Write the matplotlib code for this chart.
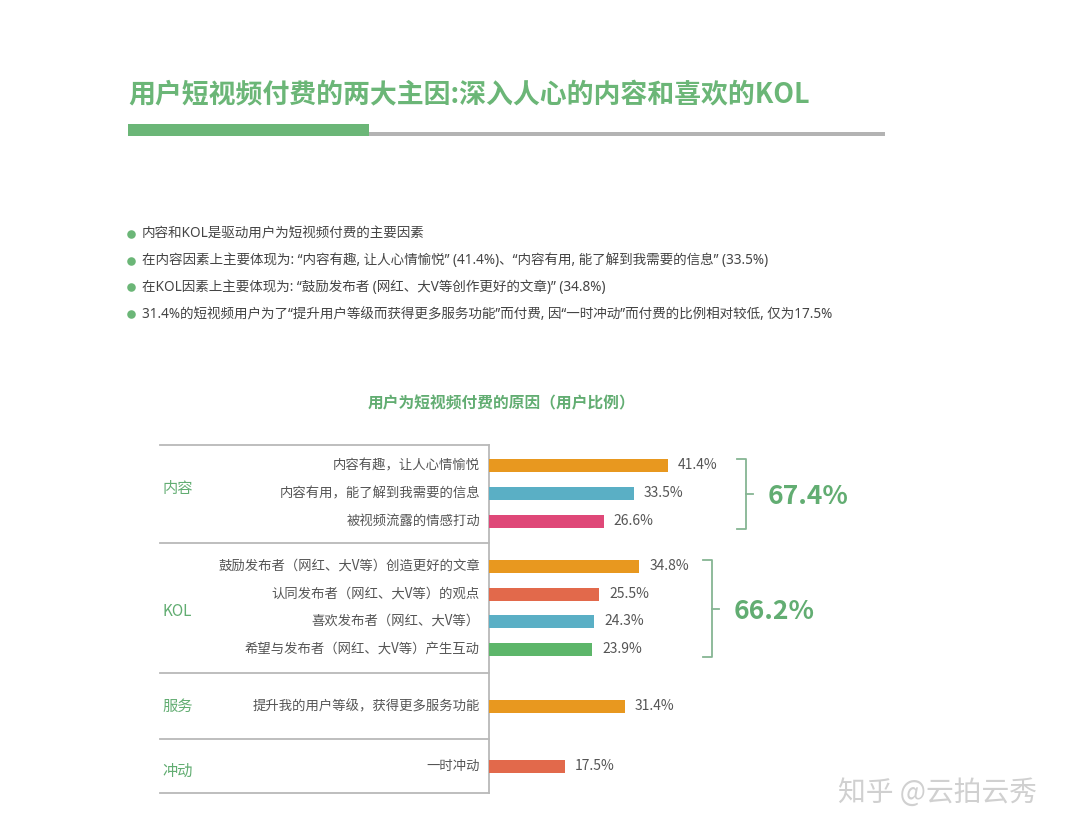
import matplotlib
matplotlib.use("Agg")
import matplotlib.pyplot as plt

plt.rcParams['font.family'] = ['Noto Sans CJK SC', 'DejaVu Sans']

# ---- data ----
title = "用户短视频付费的两大主因:深入人心的内容和喜欢的KOL"
bullets = [
    "内容和KOL是驱动用户为短视频付费的主要因素",
    "在内容因素上主要体现为: “内容有趣, 让人心情愉悦” (41.4%)、“内容有用, 能了解到我需要的信息” (33.5%)",
    "在KOL因素上主要体现为: “鼓励发布者 (网红、大V等创作更好的文章)” (34.8%)",
    "31.4%的短视频用户为了“提升用户等级而获得更多服务功能”而付费, 因“一时冲动”而付费的比例相对较低, 仅为17.5%",
]
chart_title = "用户为短视频付费的原因（用户比例）"
groups = ["内容", "KOL", "服务", "冲动"]
group_sizes = [3, 4, 1, 1]
labels = [
    "内容有趣，让人心情愉悦",
    "内容有用，能了解到我需要的信息",
    "被视频流露的情感打动",
    "鼓励发布者（网红、大V等）创造更好的文章",
    "认同发布者（网红、大V等）的观点",
    "喜欢发布者（网红、大V等）",
    "希望与发布者（网红、大V等）产生互动",
    "提升我的用户等级，获得更多服务功能",
    "一时冲动",
]
values = [41.4, 33.5, 26.6, 34.8, 25.5, 24.3, 23.9, 31.4, 17.5]
group_totals = [67.4, 66.2]
watermark = "知乎 @云拍云秀"

# ---- style / layout ----
W, H = 1080, 835
GREEN = "#6bb677"
GREEN_TXT = "#62ad72"
GRAY_TXT = "#555555"
LINE = "#b9b9b9"
colors = ["#e8981f", "#5aafc5", "#df4878", "#e8981f", "#e2694b",
          "#5aafc5", "#5db66a", "#e8981f", "#e2694b"]
row_y = [465, 493, 521, 566, 594, 621, 649, 706, 766]
group_label_y = [489, 612, 706, 771]
separators = [445, 543, 673, 739, 793]
box_left, bar_left = 160, 489
px_per_pct = 4.32

fig = plt.figure(figsize=(W / 100, H / 100), dpi=100)
ax = fig.add_axes([0, 0, 1, 1])
ax.set_xlim(0, W)
ax.set_ylim(H, 0)
ax.axis("off")

# title + underline
ax.text(128, 94, title, color=GREEN, fontsize=19.4, fontweight="bold",
        ha="left", va="center")
ax.add_patch(plt.Rectangle((369, 132), 516, 4, color="#b3b3b3", lw=0))
ax.add_patch(plt.Rectangle((128, 124), 241, 12, color=GREEN, lw=0))

# bullet list (latin + punctuation from Noto Sans so quotes stay narrow)
for i, b in enumerate(bullets):
    y = 234 + i * 26.7
    ax.scatter([131], [y], s=38, color=GREEN, lw=0)
    ax.text(142, y, b, fontsize=9.75, color="#444444", ha="left", va="center",
            family=["Noto Sans", "Noto Sans CJK SC"])

ax.text(502, 403, chart_title, color=GREEN_TXT, fontsize=11.3,
        fontweight="bold", ha="center", va="center")

# left box
for y in separators:
    ax.plot([box_left, bar_left], [y, y], color=LINE, lw=1.3)
ax.plot([bar_left, bar_left], [separators[0], separators[-1]], color=LINE, lw=1.3)
for g, y in zip(groups, group_label_y):
    ax.text(162, y, g, color=GREEN_TXT, fontsize=11, ha="left", va="center")

# bars
bx = fig.add_axes([bar_left / W, 0, (W - bar_left) / W, 1])
bx.set_xlim(0, (W - bar_left) / px_per_pct)
bx.set_ylim(H, 0)
bx.axis("off")
bx.patch.set_alpha(0)
bx.barh(row_y, values, height=13, color=colors, left=0)
for lab, v, y in zip(labels, values, row_y):
    bx.annotate(lab, xy=(0, y), xytext=(-9, 0), textcoords="offset pixels",
                ha="right", va="center", fontsize=9.6, color=GRAY_TXT)
    bx.annotate(f"{v}%", xy=(v, y), xytext=(10, 0), textcoords="offset pixels",
                ha="left", va="center", fontsize=10, color=GRAY_TXT)

# brackets with totals
BR = "#86b593"
starts = [0, 3]
bracket_x = [746, 712]
for k, tot in enumerate(group_totals):
    s = starts[k]
    n = group_sizes[k]
    top = row_y[s] - 6
    bot = row_y[s + n - 1] + 8
    mid = (top + bot) / 2
    xr = bracket_x[k]
    ax.plot([xr - 9, xr, xr, xr - 9], [top, top, bot, bot], color=BR, lw=1.3)
    ax.plot([xr, xr + 7], [mid, mid], color=BR, lw=1.3)
    ax.text(xr + 22, mid + 3, f"{tot}%", color=GREEN_TXT, fontsize=19,
            fontweight="bold", ha="left", va="center")

ax.text(937, 793, watermark, color="#d0d0d0", fontsize=20, ha="center", va="center")

fig.savefig("out.png", dpi=100, facecolor="white")
